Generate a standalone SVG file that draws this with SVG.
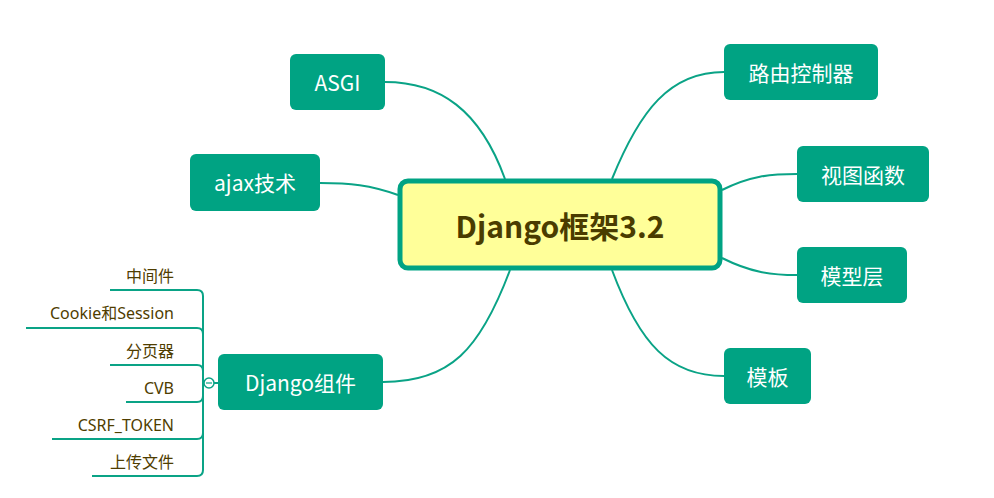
<svg xmlns="http://www.w3.org/2000/svg" width="994" height="498" viewBox="0 0 994 498">
<style>
.n rect{fill:#00a383;}
.n text{fill:#fff;font-family:"Microsoft YaHei","Noto Sans CJK SC",sans-serif;font-size:21px;text-anchor:middle;dominant-baseline:central;}
.c path{fill:none;stroke:#0aa386;stroke-width:2;}
.s text{fill:#4f3d00;font-family:"Noto Sans","Noto Sans CJK SC",sans-serif;font-size:16px;text-anchor:end;}
</style>
<rect width="994" height="498" fill="#fff"/>
<g class="c">
<path d="M505 179 C480 110 440 82 385 82"/>
<path d="M398 195 C370 185 350 183 320 183"/>
<path d="M510 270 C480 350 450 382 383 382"/>
<path d="M612 179 C640 110 670 72 724 72"/>
<path d="M722 190 C750 176 770 174 797 174"/>
<path d="M722 258 C750 272 770 275 797 275"/>
<path d="M612 270 C640 345 670 376 724 376"/>
<path d="M110 290 H197 Q203 290 203 296 V470 Q203 476 197 476 H92"/>
<path d="M26 328 H197 Q203 328 203 334"/>
<path d="M110 365 H197 Q203 365 203 371"/>
<path d="M126 402 H197 Q203 402 203 396"/>
<path d="M52 439 H197 Q203 439 203 433"/>
<path d="M203 383 H218"/>
</g>
<circle cx="209" cy="383" r="5" fill="#fff" stroke="#0aa386" stroke-width="1.5"/>
<line x1="206" y1="383" x2="212" y2="383" stroke="#0aa386" stroke-width="1.2"/>
<g id="center"><rect x="400" y="181" width="320" height="87" rx="8" fill="#ffff99" stroke="#00a383" stroke-width="5"/>
<text x="560" y="225" font-family="Microsoft YaHei,Noto Sans CJK SC,sans-serif" font-size="30" font-weight="bold" fill="#4a3c00" text-anchor="middle" dominant-baseline="central">Django框架3.2</text></g>
<g id="asgi" class="n"><rect x="290" y="54" width="95" height="56" rx="6"/><text x="337.5" y="82">ASGI</text></g>
<g id="ajax" class="n"><rect x="190" y="154" width="130" height="57" rx="6"/><text x="255" y="182">ajax技术</text></g>
<g id="comp" class="n"><rect x="218" y="354" width="165" height="56" rx="6"/><text x="300.5" y="382">Django组件</text></g>
<g id="route" class="n"><rect x="724" y="44" width="154" height="56" rx="6"/><text x="801" y="72">路由控制器</text></g>
<g id="view" class="n"><rect x="797" y="146" width="132" height="56" rx="6"/><text x="863" y="174">视图函数</text></g>
<g id="model" class="n"><rect x="797" y="247" width="110" height="56" rx="6"/><text x="852" y="275">模型层</text></g>
<g id="tpl" class="n"><rect x="724" y="348" width="87" height="56" rx="6"/><text x="767.5" y="376">模板</text></g>
<g class="s">
<text x="174" y="282">中间件</text>
<text x="174" y="319">Cookie和Session</text>
<text x="174" y="357">分页器</text>
<text x="174" y="394">CVB</text>
<text x="174" y="431">CSRF_TOKEN</text>
<text x="174" y="468">上传文件</text>
</g>
</svg>
